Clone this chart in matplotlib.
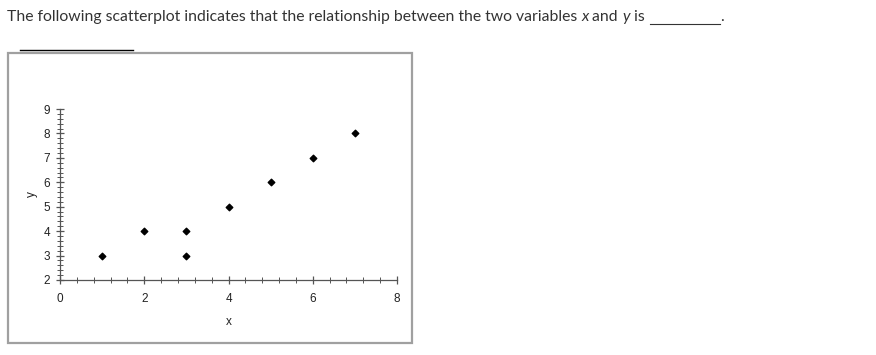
import matplotlib
matplotlib.use("Agg")
import matplotlib.pyplot as plt
from matplotlib.patches import Rectangle
from matplotlib.lines import Line2D
from matplotlib.ticker import MultipleLocator

# scatter data
x_vals = [1, 2, 3, 3, 4, 5, 6, 7]
y_vals = [3, 4, 4, 3, 5, 6, 7, 8]

W, H = 876, 355
fig = plt.figure(figsize=(W / 100, H / 100), dpi=100)

def fx(px):
    return px / W

def fy(py):
    return 1 - py / H

ax = fig.add_axes([fx(60), fy(280), fx(397) - fx(60), fy(109) - fy(280)])

# question text, built from pieces so x and y can be italic
pieces = [("The following scatterplot indicates that the relationship between the two variables ", "normal"),
          ("x", "italic"),
          (" and ", "normal"),
          ("y", "italic"),
          (" is ", "normal")]
font = dict(family="Lato", size=11.3, color="#333333")
t = fig.text(fx(7), fy(17), pieces[0][0], va="center", ha="left", style=pieces[0][1], **font)
for txt, st in pieces[1:]:
    t = ax.annotate(txt, xy=(1, 0.5), xycoords=t, va="center", ha="left",
                    style=st, annotation_clip=False, **font)
# blank in the question
fig.add_artist(Line2D([fx(650), fx(720)], [fy(24), fy(24)], color="#333333", lw=0.8))
fig.text(fx(720), fy(17), ".", va="center", ha="left", **font)

# answer line
fig.add_artist(Line2D([fx(20), fx(133)], [fy(50), fy(50)], color="black", lw=1.0))

# chart frame
fig.add_artist(Rectangle((fx(8), fy(343)), fx(412) - fx(8), fy(53) - fy(343),
                         fill=False, edgecolor="#a0a0a0", lw=1.6))

ax.scatter(x_vals, y_vals, marker="D", s=11, color="black", zorder=3)
ax.set_xlim(0, 8)
ax.set_ylim(2, 9)
ax.xaxis.set_major_locator(MultipleLocator(2))
ax.xaxis.set_minor_locator(MultipleLocator(0.4))
ax.yaxis.set_major_locator(MultipleLocator(1))
ax.yaxis.set_minor_locator(MultipleLocator(0.2))
for s in ["top", "right"]:
    ax.spines[s].set_visible(False)
for s in ["left", "bottom"]:
    ax.spines[s].set_color("#555555")
    ax.spines[s].set_linewidth(0.9)
ax.tick_params(which="major", direction="inout", length=6, width=0.9, color="#555555",
               labelsize=8.5, labelcolor="#222222")
ax.tick_params(which="minor", direction="inout", length=4, width=0.7, color="#555555")
ax.tick_params(axis="x", pad=6)
ax.tick_params(axis="y", pad=4)
for lab in ax.get_xticklabels() + ax.get_yticklabels():
    lab.set_fontfamily("Liberation Sans")
ax.set_xlabel("x", family="Liberation Sans", fontsize=8.5, color="#222222", labelpad=8)
ax.set_ylabel("y", family="Liberation Sans", fontsize=8.5, color="#222222", labelpad=4)
ax.patch.set_alpha(0)

fig.savefig("out.png", dpi=100)
